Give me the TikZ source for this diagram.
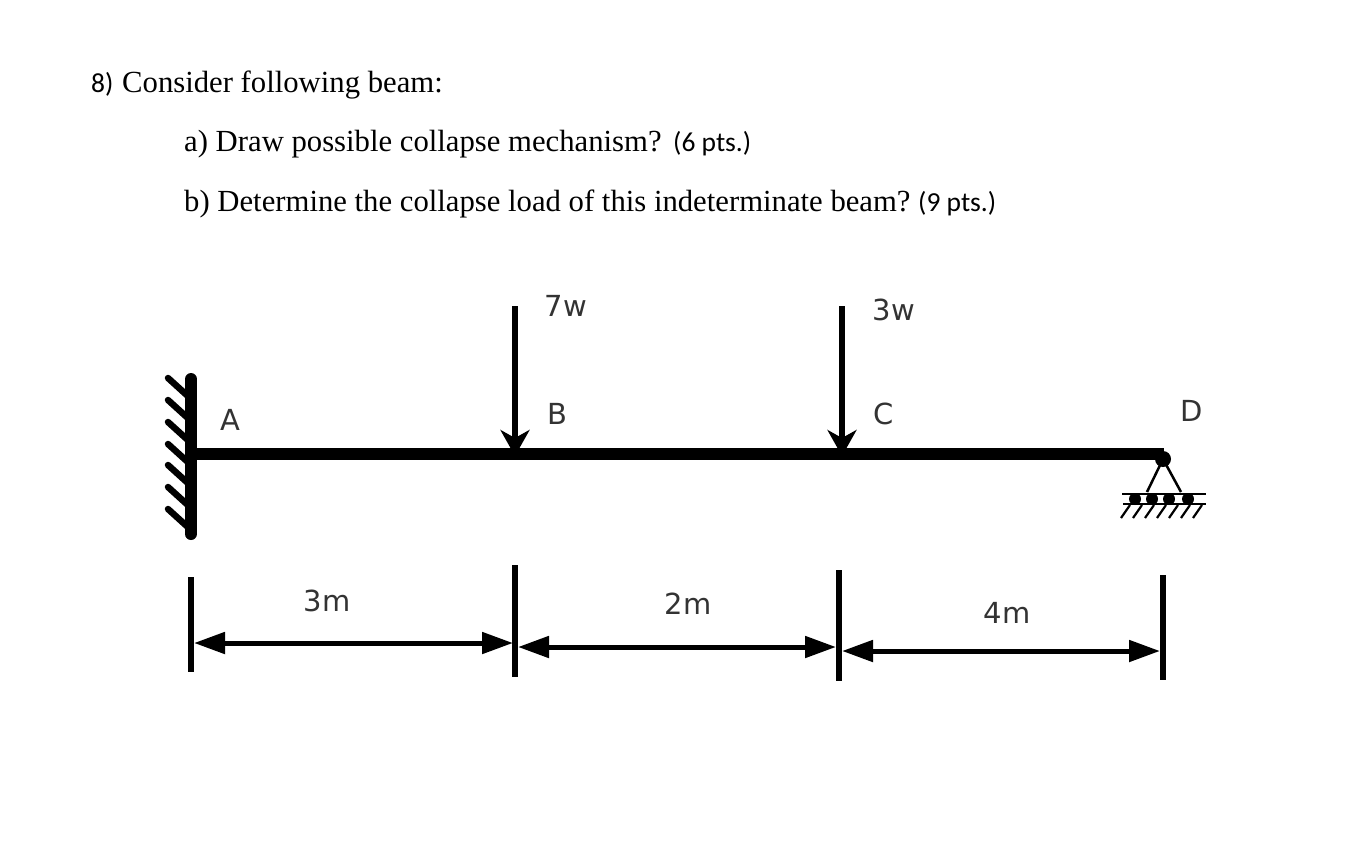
\documentclass[tikz,border=0pt]{standalone}
\usepackage{fontspec}
\setmainfont{Liberation Serif}
\newfontfamily\calfont{Carlito}
\newfontfamily\lblfont{DejaVu Sans}
\usetikzlibrary{arrows.meta}
\tikzset{
  x=1pt,y=-1pt,
  txt/.style={anchor=base west,inner sep=0pt,font=\fontsize{30.7}{31}\selectfont},
  pts/.style={anchor=base west,inner sep=0pt,font=\calfont\fontsize{27.5}{28}\selectfont},
  lbl/.style={anchor=center,inner sep=0pt,text=black!80,font=\lblfont\fontsize{29}{29}\selectfont},
  beam/.style={line width=12pt},
  load/.style={line width=6pt,-{Stealth[length=26pt,width=29pt,inset=8pt]},shorten >=-2pt},
  tick/.style={line width=6.5pt},
  dim/.style={line width=5pt,{Triangle[length=31pt,width=21pt]}-{Triangle[length=31pt,width=21pt]}},
  hatch/.style={line width=6.5pt,line cap=round},
  thinl/.style={line width=2pt},
}
\begin{document}
\begin{tikzpicture}
\useasboundingbox (0,0) rectangle (1351,863);
\fill[white] (0,0) rectangle (1351,863);
% text
\node[pts] (n8) at (91,92) {8)};
\node[txt] (t0) at (122,92) {Consider following beam:};
\node[txt] (t1) at (184,151) {a) Draw possible collapse mechanism?};
\node[pts] (p1) at (673,151) {(6 pts.)};
\node[txt] (t2) at (184,211) {b) Determine the collapse load of this indeterminate beam?};
\node[pts] (p2) at (918,211) {(9 pts.)};
% labels
\node[lbl] (w7) at (566,306) {7w};
\node[lbl] (w3) at (894,310) {3w};
\node[lbl] (la) at (230,420) {A};
\node[lbl] (lb) at (557,414) {B};
\node[lbl] (lc) at (884,414) {C};
\node[lbl] (ld) at (1192,411) {D};
\node[lbl] (d3) at (327,601) {3m};
\node[lbl] (d2) at (688,604) {2m};
\node[lbl] (d4) at (1007,613) {4m};
% beam
\coordinate (A) at (192,454);
\coordinate (B) at (515,454);
\coordinate (C) at (842,454);
\coordinate (D) at (1164,454);
\draw[beam] (A) -- (D);
\coordinate (wt) at (191,379);
\coordinate (wb) at (191,534);
\draw[line width=12pt,line cap=round] (wt) -- (wb);
\foreach \y in {378,400,422,444,465,487,509}
  \draw[hatch] (168,\y) -- (190,\y+20);
% loads
\coordinate (Bt) at (515,306);
\coordinate (Ct) at (842,306);
\draw[load] (Bt) -- (B);
\draw[load] (Ct) -- (C);
% support
\coordinate (pin) at (1163,459);
\fill (pin) circle (8pt);
\coordinate (sl) at (1122,494);
\coordinate (sr) at (1206,494);
\coordinate (sl2) at (1123,504);
\coordinate (sr2) at (1206,504);
\draw[line width=2.5pt] (pin) -- (1147,492);
\draw[line width=2.5pt] (pin) -- (1181,492);
\draw[thinl] (sl) -- (sr);
\draw[thinl] (sl2) -- (sr2);
\foreach \x in {1135,1152,1169,1188}
  \fill (\x,499) circle (6pt);
\foreach \x in {1130,1142,1154,1166,1178,1190,1202}
  \draw[line width=2.2pt] (\x,505) -- (\x-9,518);
% dimension ticks
\coordinate (a1) at (191,577);
\coordinate (a2) at (191,672);
\coordinate (b1) at (515,565);
\coordinate (b2) at (515,677);
\coordinate (c1) at (839,570);
\coordinate (c2) at (839,681);
\coordinate (d1) at (1163,575);
\coordinate (d2b) at (1163,680);
\draw[tick] (a1) -- (a2);
\draw[tick] (b1) -- (b2);
\draw[tick] (c1) -- (c2);
\draw[tick] (d1) -- (d2b);
% dimension arrows
\coordinate (e1) at (194,643);
\coordinate (e2) at (513,643);
\coordinate (f1) at (518,647);
\coordinate (f2) at (836,647);
\coordinate (g1) at (842,651);
\coordinate (g2) at (1160,651);
\draw[dim] (e1) -- (e2);
\draw[dim] (f1) -- (f2);
\draw[dim] (g1) -- (g2);
\end{tikzpicture}
\end{document}
